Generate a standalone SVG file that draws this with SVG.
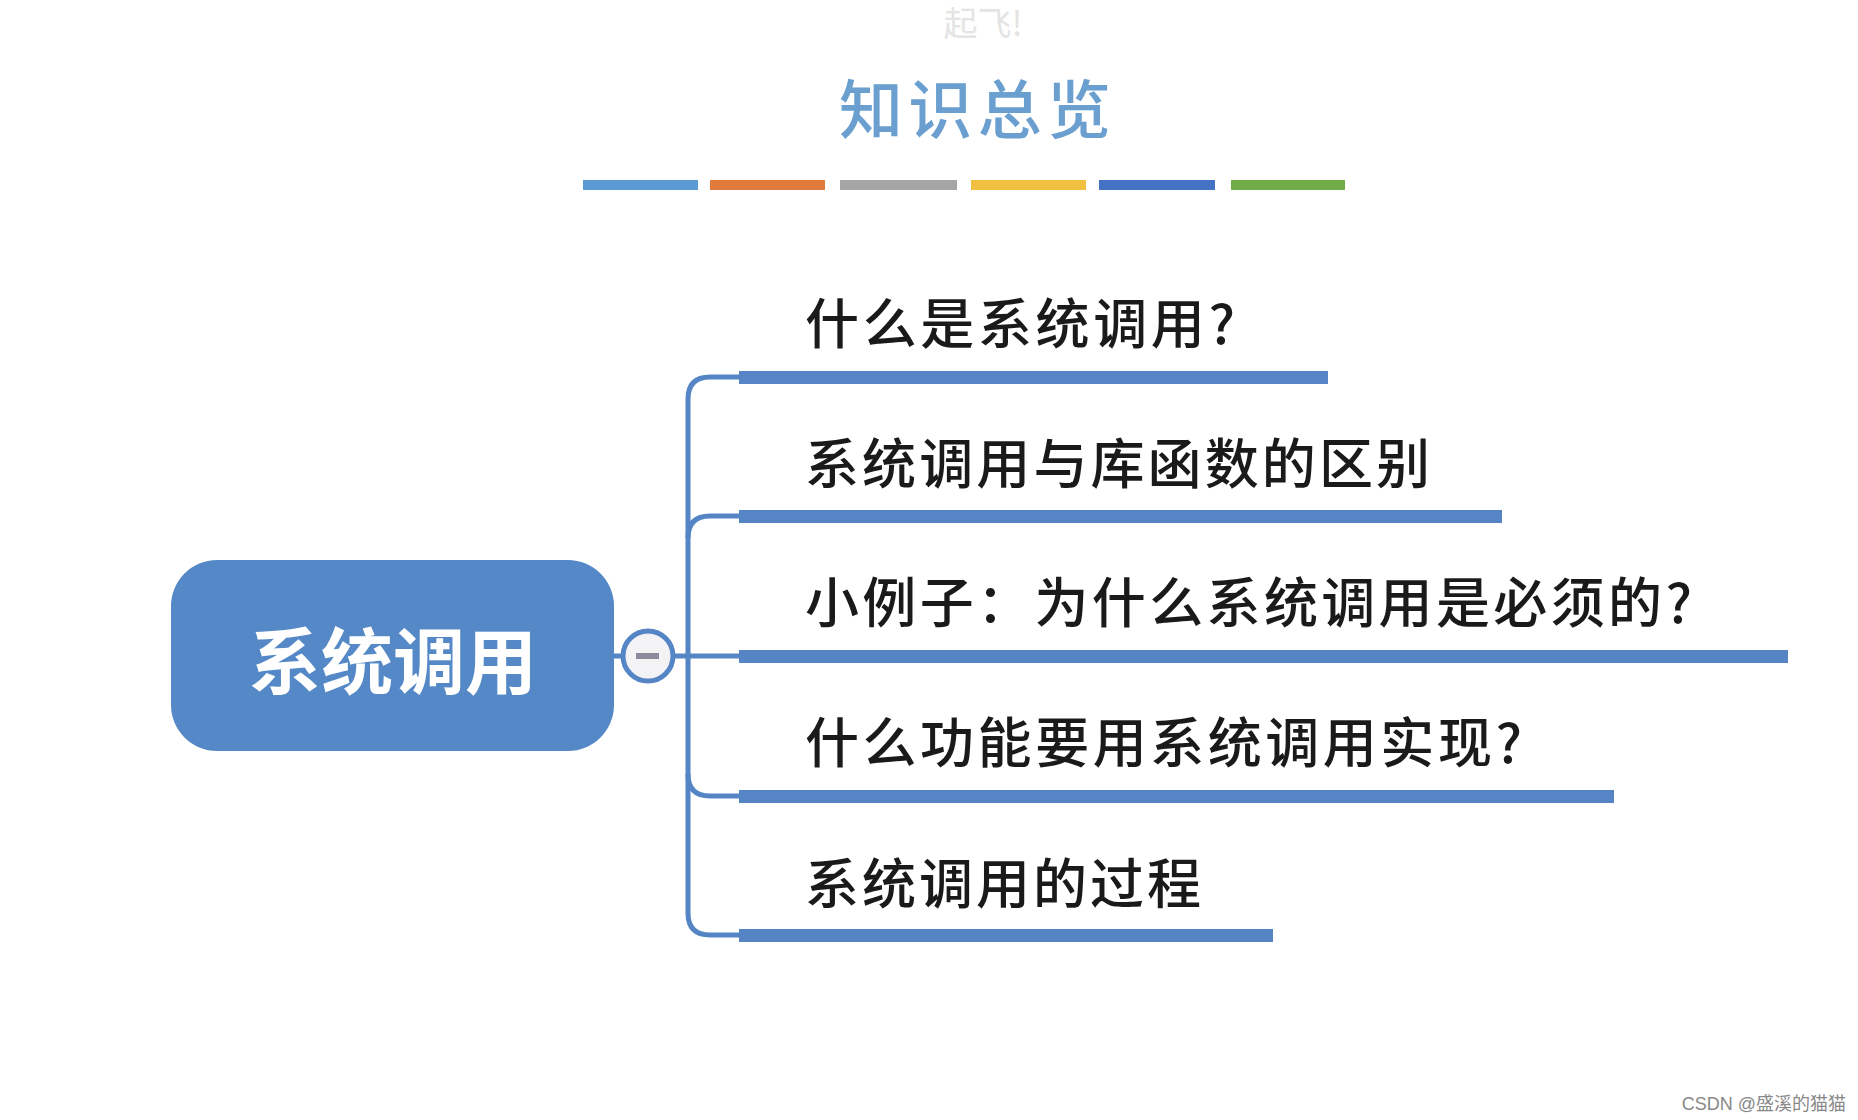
<svg xmlns="http://www.w3.org/2000/svg" width="1858" height="1120" viewBox="0 0 1858 1120">
<style>
.t{font-family:"Noto Sans CJK SC",sans-serif;font-weight:500;font-size:54px;fill:#1a1a1a}
.bar{fill:#5585c5}
.ln{fill:none;stroke:#5585c5;stroke-width:5}
</style>
<rect width="1858" height="1120" fill="#fff"/>
<text x="983" y="36" text-anchor="middle" font-family="Noto Sans CJK SC,sans-serif" font-size="34" fill="#e4e4e4">起飞!</text>
<text x="975" y="133" text-anchor="middle" font-family="Noto Sans CJK SC,sans-serif" font-weight="500" font-size="64" fill="#6a9fd0" textLength="272">知识总览</text>
<g id="colorbars">
<rect x="583" y="180" width="115" height="10" fill="#5b9bd5"/>
<rect x="710" y="180" width="115" height="10" fill="#e07b3c"/>
<rect x="840" y="180" width="117" height="10" fill="#a5a5a5"/>
<rect x="971" y="180" width="115" height="10" fill="#f2c040"/>
<rect x="1099" y="180" width="116" height="10" fill="#4472c4"/>
<rect x="1231" y="180" width="114" height="10" fill="#70ad47"/>
</g>
<g id="connectors">
<path class="ln" d="M614 656 H621 M675 656 H739"/>
<path class="ln" d="M739 377 H710 Q688 377 688 399 V913 Q688 935 710 935 H739"/>
<path class="ln" d="M739 516 H710 Q688 516 688 538"/>
<path class="ln" d="M739 796 H710 Q688 796 688 774"/>
</g>
<g id="root">
<rect x="171" y="560" width="443" height="191" rx="46" fill="#5588c6"/>
<text x="393" y="688" text-anchor="middle" font-family="Noto Sans CJK SC,sans-serif" font-weight="bold" font-size="72" fill="#fff">系统调用</text>
</g>
<g id="toggle">
<circle cx="648" cy="656" r="25" fill="#f3f3f6" stroke="#5585c5" stroke-width="5"/>
<rect x="636" y="653" width="23" height="6" fill="#8a8a9a"/>
</g>
<g id="n1"><text class="t" x="805" y="344" textLength="430">什么是系统调用?</text><rect class="bar" x="739" y="371" width="589" height="13"/></g>
<g id="n2"><text class="t" x="805" y="484" textLength="625">系统调用与库函数的区别</text><rect class="bar" x="739" y="510" width="763" height="13"/></g>
<g id="n3"><text class="t" x="805" y="623" textLength="887">小例子：为什么系统调用是必须的?</text><rect class="bar" x="739" y="650" width="1049" height="13"/></g>
<g id="n4"><text class="t" x="805" y="763" textLength="717">什么功能要用系统调用实现?</text><rect class="bar" x="739" y="790" width="875" height="13"/></g>
<g id="n5"><text class="t" x="805" y="904" textLength="396">系统调用的过程</text><rect class="bar" x="739" y="929" width="534" height="13"/></g>
<text x="1846" y="1110" text-anchor="end" font-family="Liberation Sans,Noto Sans CJK SC,sans-serif" font-size="18" fill="#888">CSDN @盛溪的猫猫</text>
</svg>
